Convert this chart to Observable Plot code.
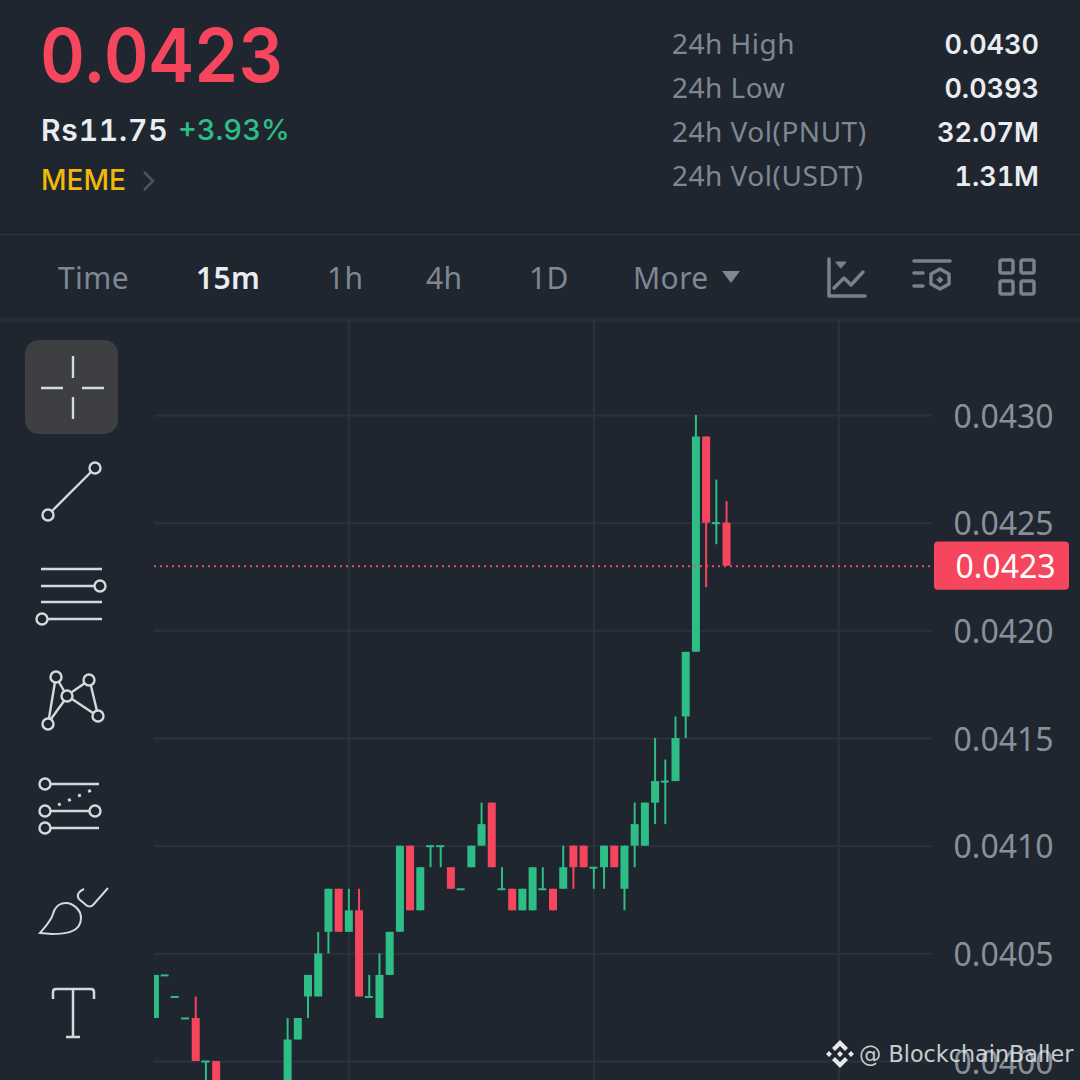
<!DOCTYPE html>
<html><head><meta charset="utf-8">
<style>
html,body{margin:0;padding:0;background:#1f2630;width:1080px;height:1080px;overflow:hidden;font-family:"Noto Sans",sans-serif}
#page{position:relative;width:1080px;height:1080px;overflow:hidden}
.t{position:absolute;white-space:nowrap;line-height:1;font-feature-settings:"tnum" 1}
#chart{position:absolute;left:0;top:320px}
svg.ic{position:absolute;overflow:visible;fill:none}
</style>
<script src="https://cdn.jsdelivr.net/npm/d3@7"></script>
<script src="https://cdn.jsdelivr.net/npm/@observablehq/plot@0.6"></script>
</head><body><div id="page">
<div style="position:absolute;left:0;top:234px;width:1080px;height:1px;background:#2f3641"></div>
<div style="position:absolute;left:0;top:318px;width:1080px;height:4px;background:#262d37"></div>
<div id="chart"></div>
</div>
<script>
const index = d3.range(57);
const open  = [.0402,.0404,.0403,.0402,.0402,.0400,.0400,null,null,null,null,null,null,.0398,.0401,.0403,.0403,.0406,.0408,.0406,.0407,.0403,.0402,.0404,.0406,.0410,.0407,.0410,.0410,.0409,.0408,.0409,.0410,.0412,.0408,.0408,.0407,.0407,.0408,.0408,.0408,.0410,.0410,.0409,.0409,.0410,.0408,.0410,.0410,.0412,.0413,.0413,.0416,.0419,.0429,.0425,.0425];
const high  = [.0404,.0404,.0403,.0402,.0403,.0400,.0400,null,null,null,null,null,null,.0402,.0402,.0404,.0406,.0408,.0408,.0408,.0408,.0404,.0405,.0406,.0410,.0410,.0409,.0410,.0410,.0409,.0408,.0410,.0412,.0412,.0409,.0408,.0408,.0409,.0409,.0408,.0410,.0410,.0410,.0409,.0410,.0410,.0410,.0412,.0412,.0415,.0414,.0416,.0419,.0430,.0429,.0427,.0426];
const low   = [.0402,.0404,.0403,.0402,.0400,.0398,.0398,null,null,null,null,null,null,.0398,.0401,.0402,.0403,.0405,.0406,.0406,.0403,.0403,.0402,.0404,.0406,.0407,.0407,.0409,.0409,.0408,.0408,.0409,.0410,.0409,.0408,.0407,.0407,.0407,.0408,.0407,.0408,.0408,.0409,.0408,.0408,.0409,.0407,.0409,.0410,.0411,.0411,.0413,.0415,.0419,.0422,.0424,.0423];
const close = [.0404,.0404,.0403,.0402,.0400,.0400,.0398,null,null,null,null,null,null,.0401,.0402,.0404,.0405,.0408,.0406,.0407,.0403,.0403,.0404,.0406,.0410,.0407,.0409,.0410,.0410,.0408,.0408,.0410,.0411,.0409,.0408,.0407,.0408,.0409,.0408,.0407,.0409,.0409,.0409,.0409,.0410,.0409,.0410,.0411,.0412,.0413,.0413,.0415,.0419,.0429,.0425,.0425,.0423];
const priceTicks = [.0400,.0405,.0410,.0415,.0420,.0425,.0430];
const timeGrid = [19,43,67];
const lastPrice = .0423;
const statLabels = ["24h High","24h Low","24h Vol(PNUT)","24h Vol(USDT)"];
const statValues = ["0.0430","0.0393","32.07M","1.31M"];
const tabs = ["Time","15m","1h","4h","1D","More"];
const tabX = [58,196,327,426,529,633];

const UP="#2ebd85", DOWN="#f6465d", GRID="#2b323c", AXIS="#8a9099";
const rows = index.map(i=>({i,o:open[i],h:high[i],l:low[i],c:close[i]})).filter(d=>d.o!==null);
const col = d=> d.c<d.o ? DOWN : UP;
const doji = rows.filter(d=>d.o===d.c);
const body = rows.filter(d=>d.o!==d.c);

const svg = Plot.plot({
  width:1080,height:760,marginLeft:154,marginRight:148,marginTop:0,marginBottom:0,
  style:{background:"transparent",overflow:"visible",fontFamily:'"Noto Sans",sans-serif'},
  x:{domain:[-0.039,76.176],axis:null},
  y:{domain:[.039912,.043441],range:[760,0],axis:null},
  marks:[
    Plot.gridY(priceTicks,{stroke:GRID,strokeOpacity:1,strokeWidth:2}),
    Plot.ruleX(timeGrid,{stroke:GRID,strokeOpacity:1,strokeWidth:2,y1:.039912,y2:.043441}),
    Plot.ruleX(rows,{x:"i",y1:"l",y2:"h",stroke:col,strokeWidth:2,clip:true}),
    Plot.ruleX(body,{x:"i",y1:"o",y2:"c",stroke:col,strokeWidth:8,clip:true}),
    Plot.ruleY(doji,{y:"o",x1:d=>d.i-0.39,x2:d=>d.i+0.39,stroke:col,strokeWidth:2,clip:true}),
    Plot.ruleY([lastPrice],{stroke:DOWN,strokeWidth:2,strokeDasharray:"2 4"}),
    Plot.axisY(priceTicks,{anchor:"right",tickSize:0,tickPadding:21,label:null,fontSize:32,dy:2,tickFormat:d3.format(".4f"),color:AXIS,fill:AXIS}),
    Plot.rect([lastPrice],{x1:76.37,x2:89.6,y1:d=>d-.000112,y2:d=>d+.000112,fill:DOWN,rx:4}),
    Plot.text([lastPrice],{y:d=>d,x:76.37,dx:21,dy:2,text:d3.format(".4f"),fill:"#fff",fontSize:32,textAnchor:"start"})
  ]
});
document.getElementById("chart").append(svg);

const page=document.getElementById("page");
function T(txt,x,y,size,color,opts={}){
  const e=document.createElement("div");e.className="t";e.textContent=txt;
  if(opts.right!==undefined){e.style.right=(1080-opts.right)+"px";}else e.style.left=x+"px";
  e.style.top=y+"px";e.style.fontSize=size+"px";e.style.color=color;
  e.style.fontWeight=opts.w||400;if(opts.ff)e.style.fontFamily=opts.ff;
  if(opts.ls)e.style.letterSpacing=opts.ls+"px";
  page.append(e);return e;
}
const big=T("0.0423",40,18,74,DOWN,{w:600,ff:"Inter"});
big.style.transformOrigin="left top";big.style.transform="scaleX(.94)";
T("Rs11.75",41,115,30,"#eaecef",{w:600,ff:"Inter",ls:.8});
T("+3.93%",178,115,29,UP,{w:500,ff:"Inter"});
T("MEME",41,166,28,"#f0b90b",{w:500,ff:"Inter"});
statLabels.forEach((s,i)=>{T(s,672,29+44*i,28,"#7f8792",{ls:.5});T(statValues[i],0,31+44*i,27,"#eaecef",{right:1039,w:600,ff:"Inter"});});
tabs.forEach((s,i)=>T(s,tabX[i],263,30,i==1?"#eaecef":"#7f8792",{w:i==1?600:400,ls:.4}));

page.insertAdjacentHTML("beforeend",`
<svg class="ic" style="left:0;top:0" width="1080" height="1080" stroke="#d5d8dc" stroke-width="2.4">
  <path d="M144 172l9 9-9 9" stroke="#4d5460" stroke-width="2.5"/>
  <path d="M722 271h18l-9 12z" fill="#7f8792" stroke="none"/>
  <g stroke="#7a808c" stroke-width="3.5" stroke-linecap="round" stroke-linejoin="round">
    <path d="M829 259v37h36"/><path d="M834 288l10-10 7 7 12-13"/><path d="M836 262h10l-5 6z" fill="#7a808c" stroke-width="1"/>
    <path d="M914 261h36M914 273h9M914 286h9"/><path d="M940 269l9 5v10l-9 5-9-5v-10z"/><path d="M940 277l3 3-3 3-3-3z" fill="#7a808c" stroke-width="1"/>
    <rect x="1000" y="260" width="13" height="13" rx="2"/><rect x="1021" y="260" width="13" height="13" rx="2"/>
    <rect x="1000" y="281" width="13" height="13" rx="2"/><rect x="1021" y="281" width="13" height="13" rx="2"/>
  </g>
  <rect x="25" y="340" width="93" height="94" rx="14" fill="#3d3f42" stroke="none"/>
  <path d="M73 356v22M73 397v22M41 388h22M82 388h22"/>
  <circle cx="95" cy="468" r="5.5"/><circle cx="48" cy="515" r="5.5"/><path d="M91 472L52 511"/>
  <path d="M41 569h61M41 586h54M41 602h61M48 619h54"/><circle cx="100" cy="586" r="5.5"/><circle cx="42" cy="619" r="5.5"/>
  <circle cx="56" cy="677" r="5.5"/><circle cx="89" cy="680" r="5.5"/><circle cx="67" cy="696" r="5.5"/><circle cx="48" cy="724" r="5.5"/><circle cx="98" cy="716" r="5.5"/>
  <path d="M55 682L49 718M59 682l5 9M72 692l13-9M91 686l6 25M72 699l21 14M64 701L51 719"/>
  <circle cx="45" cy="784" r="5.5"/><circle cx="45" cy="811" r="5.5"/><circle cx="95" cy="811" r="5.5"/><circle cx="45" cy="828" r="5.5"/>
  <path d="M51 784h48M51 811h38M51 828h48"/><path d="M58 805l36-16" stroke-width="3" stroke-dasharray="3 8"/>
  <path d="M84 889c-5 2-8 6-5 10l7 6c2 2 5 2 7 0l15-17M40 933l12 1c12 0 29-1 29-16 0-9-9-15-15-15-8 0-12 6-13 11-2 7-8 13-13 19z" stroke-width="2"/>
  <path d="M53 999v-7c0-2 1-3 3-3h35c2 0 3 1 3 3v7M73 989v48M66 1037h14" stroke-width="2.5"/>
</svg>
<svg class="ic" style="left:826px;top:1040px" width="28" height="28"><g fill="#e6e8ea">
  <path d="M14 0l8 8-3 3-5-5-5 5-3-3zM14 28l8-8-3-3-5 5-5-5-3 3zM3 11l3 3-3 3-3-3zM25 11l3 3-3 3-3-3zM14 11l3 3-3 3-3-3z"/></g></svg>`);
T("@ BlockchainBaller",859,1043,22.3,"rgba(232,234,236,.85)",{ff:"DejaVu Sans"});
</script></body></html>
